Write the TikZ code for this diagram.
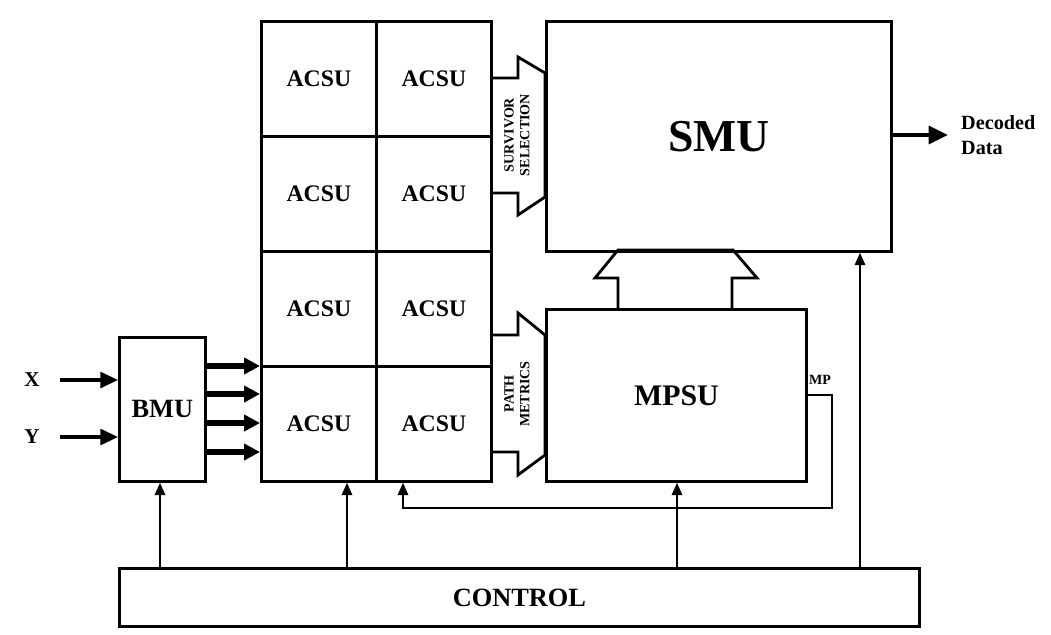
\documentclass[tikz,border=0pt]{standalone}
\usepackage{fontspec}
\setmainfont{Liberation Serif}
\usetikzlibrary{positioning,arrows.meta}
\tikzset{
  blk/.style={draw,line width=1.6pt,inner sep=0pt,font=\bfseries},
  sig/.style={-{Triangle[length=7pt,width=6pt]},line width=0.8pt},
  bus/.style={-{Triangle[length=9pt,width=9pt]},line width=3pt},
  fat/.style={draw,line width=1.6pt,fill=white,line join=miter},
}
\begin{document}
\begin{tikzpicture}[x=0.02cm,y=-0.02cm]
\useasboundingbox (0,0) rectangle (1051,635);
% block arrows
\draw[fat] (490,78) -- (518,78) -- (518,57) -- (545,73) -- (545,197) -- (518,215) -- (518,193) -- (490,193);
\node[rotate=90,align=center,font=\bfseries\fontsize{8}{9}\selectfont] (surv) at (517,135) {SURVIVOR\\SELECTION};
\draw[fat] (490,335) -- (518,335) -- (518,313) -- (545,335) -- (545,455) -- (518,475) -- (518,452) -- (490,452);
\node[rotate=90,align=center,font=\bfseries\fontsize{8}{9}\selectfont] (pm) at (517,394) {PATH\\METRICS};
\draw[fat] (618,308) -- (618,278) -- (595,278) -- (618,250) -- (733,250) -- (757,278) -- (732,278) -- (732,308);
% ACSU array
\foreach \r/\yy in {1/20,2/135,3/250,4/365}{
  \node[blk,minimum width=115*0.02cm,minimum height=115*0.02cm,anchor=north west,font=\bfseries\fontsize{13.5}{15}\selectfont]
    (a\r l) at (260,\yy) {ACSU};
  \node[blk,minimum width=115*0.02cm,minimum height=115*0.02cm,anchor=north west,font=\bfseries\fontsize{13.5}{15}\selectfont]
    (a\r r) at (375,\yy) {ACSU};
}
\node[blk,minimum width=345*0.02cm,minimum height=230*0.02cm,anchor=north west,font=\bfseries\fontsize{26}{28}\selectfont]
  (smu) at (545,20) {SMU};
\node[blk,minimum width=260*0.02cm,minimum height=172*0.02cm,anchor=north west,font=\bfseries\fontsize{17}{19}\selectfont]
  (mpsu) at (545,308) {MPSU};
\node[blk,minimum width=86*0.02cm,minimum height=144*0.02cm,anchor=north west,font=\bfseries\fontsize{15}{17}\selectfont]
  (bmu) at (118,336) {BMU};
\node[blk,minimum width=800*0.02cm,minimum height=58*0.02cm,anchor=north west,font=\bfseries\fontsize{15}{17}\selectfont]
  (ctrl) at (118,567) {CONTROL};
% inputs
\node[font=\bfseries\fontsize{12}{14}\selectfont] (x) at (32,380) {X};
\node[font=\bfseries\fontsize{12}{14}\selectfont] (y) at (32,437) {Y};
\coordinate (xs) at (60,380);
\coordinate (ys) at (60,437);
\draw[-{Triangle[length=10pt,width=9pt]},line width=1.8pt] (xs) -- (xs -| bmu.west);
\draw[-{Triangle[length=10pt,width=9pt]},line width=1.8pt] (ys) -- (ys -| bmu.west);
\foreach \yy in {366,394,423,452}{
  \coordinate (b\yy) at (204,\yy);
  \draw[bus] (b\yy) -- (b\yy -| a1l.west);
}
% output
\coordinate (dd) at (948,135);
\draw[-{Triangle[length=11pt,width=10pt]},line width=2.4pt] (smu.east |- dd) -- (dd);
\node[anchor=west,align=left,font=\bfseries\fontsize{11.5}{14}\selectfont] (dout) at (955,135) {Decoded\\Data};
% control lines
\foreach \xx/\tgt in {160/bmu,347/a4l,677/mpsu,860/smu}{
  \coordinate (c\xx) at (\xx,567);
  \draw[sig] (c\xx) -- (c\xx |- \tgt.south);
}
% MP feedback
\coordinate (mp1) at (832,395);
\coordinate (mp2) at (832,508);
\coordinate (mp3) at (403,508);
\draw[sig] (mpsu.east |- mp1) -- (mp1) -- (mp2) -- (mp3) -- (mp3 |- a4r.south);
\node[font=\bfseries\fontsize{8}{9}\selectfont] (mp) at (820,380) {MP};
\end{tikzpicture}
\end{document}
